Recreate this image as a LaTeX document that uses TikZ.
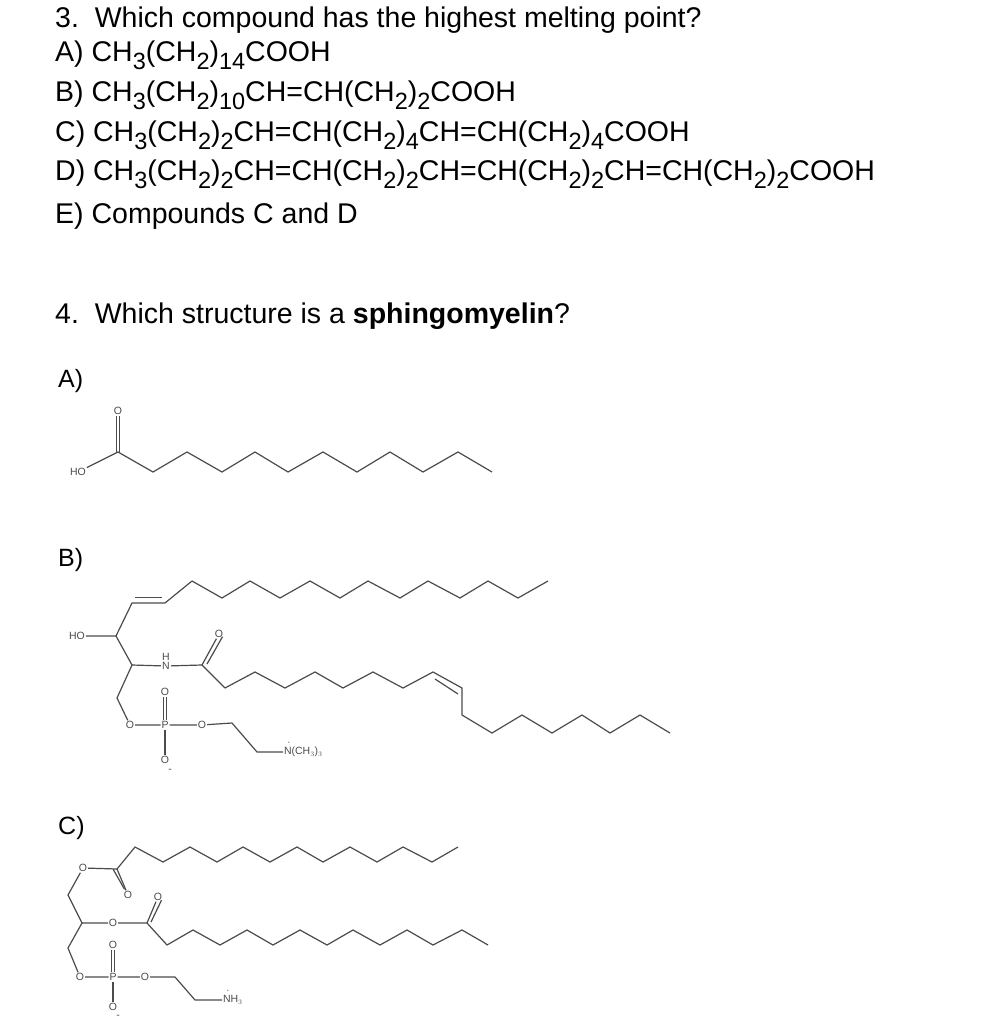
\documentclass[tikz,border=0pt]{standalone}
\usepackage{fontspec}
\setmainfont{Liberation Sans}
\newcommand\sbs[1]{\raisebox{-8pt}{\fontsize{23.5}{23.5}\selectfont #1}}
\begin{document}
\begin{tikzpicture}[x=1pt,y=-1pt,
  q/.style={anchor=base west,inner sep=0pt,font=\fontsize{28.5}{30}\selectfont},
  lbl/.style={anchor=base west,inner sep=0pt,font=\fontsize{25}{26}\selectfont},
  atm/.style={inner sep=0.8pt,text=black!70,font=\fontsize{10.5}{10.5}\selectfont},
  bd/.style={draw=black!70,line width=1.2pt,line join=round}]
\useasboundingbox[fill=white] (0,0) rectangle (987,1024);
\node[q] (t3) at (55,28) {3.\ \ Which compound has the highest melting point?};
\node[q] (ta) at (55,62) {A) CH\sbs{3}(CH\sbs{2})\sbs{14}COOH};
\node[q] (tb) at (55,102) {B) CH\sbs{3}(CH\sbs{2})\sbs{10}CH=CH(CH\sbs{2})\sbs{2}COOH};
\node[q] (tc) at (55,142) {C) CH\sbs{3}(CH\sbs{2})\sbs{2}CH=CH(CH\sbs{2})\sbs{4}CH=CH(CH\sbs{2})\sbs{4}COOH};
\node[q] (td) at (55,181) {D) CH\sbs{3}(CH\sbs{2})\sbs{2}CH=CH(CH\sbs{2})\sbs{2}CH=CH(CH\sbs{2})\sbs{2}CH=CH(CH\sbs{2})\sbs{2}COOH};
\node[q] (te) at (55,223) {E) Compounds C and D};
\node[q] (t4) at (55,323) {4.\ \ Which structure is a \textbf{sphingomyelin}?};
\node[lbl] (la) at (58,387) {A)};
\node[lbl] (lb) at (58,566) {B)};
\node[lbl] (lc) at (58,834) {C)};
% ---- A
\node[atm] (aho) at (78,472) {HO};
\node[atm] (ao) at (118,411) {O};
\coordinate (ac) at (118,452);
\draw[bd] (aho) -- (ac);
\draw[bd] ([xshift=-1.8pt]ac) -- ([xshift=-1.8pt]ao.south);
\draw[bd] ([xshift=1.8pt]ac) -- ([xshift=1.8pt]ao.south);
\draw[bd] (ac) -- (153,472) -- (187,452) -- (222,472) -- (255,452) -- (288,472) -- (323,452) -- (357,472) -- (390,452) -- (423,472) -- (458,452) -- (492,472);
% ---- B
\node[atm] (bho) at (77,636) {HO};
\coordinate (b1) at (116,636);
\coordinate (b2) at (132,603);
\coordinate (b3) at (165,603);
\draw[bd] (bho) -- (b1) -- (b2) -- (b3);
\draw[bd] (135,597.5) -- (162,597.5);
\draw[bd] (b3) -- (192,581) -- (222,598) -- (250,581) -- (280,598) -- (310,581) -- (340,598) -- (368,581) -- (400,598) -- (428,581) -- (460,598) -- (488,581) -- (518,598) -- (548,581);
\coordinate (bc2) at (132,665);
\node[atm] (bn) at (166,666) {N};
\node[atm,anchor=south] (bh) at (bn.north) {H};
\coordinate (bcc) at (202,665);
\node[atm] (bo) at (219,634) {O};
\draw[bd] (b1) -- (bc2) -- (bn) -- (bcc);
\draw[bd] (bcc) -- (bo);
\draw[bd] ([xshift=5pt,yshift=1pt]bcc) -- ([xshift=3.5pt,yshift=2pt]bo.south);
\draw[bd] (bcc) -- (225,688) -- (255,672) -- (285,688) -- (315,672) -- (343,688) -- (373,672) -- (403,688) -- (433,672) -- (462,688) -- (462,715) -- (492,733) -- (522,715) -- (552,733) -- (582,715) -- (610,733) -- (640,715) -- (670,733);
\draw[bd] (435,679) -- (458,694);
\coordinate (bc3) at (117,698);
\node[atm] (bo1) at (130,725) {O};
\node[atm] (bp) at (165,725) {P};
\node[atm] (bot) at (165,692) {O};
\node[atm] (bob) at (165,760) {O};
\node[atm] at (170,771) {-};
\node[atm] (bo2) at (202,725) {O};
\coordinate (be1) at (232,723);
\coordinate (be2) at (257,752);
\node[atm,anchor=west] (bnm) at (283,752) {N(CH$_3$)$_3$};
\node[atm] at (289,743) {$\cdot$};
\draw[bd] (bc2) -- (bc3) -- (bo1) -- (bp) -- (bo2) -- (be1) -- (be2) -- (bnm);
\draw[bd] (bp) -- (bob);
\draw[bd] ([xshift=-1.7pt]bp.north) -- ([xshift=-1.7pt]bot.south);
\draw[bd] ([xshift=1.7pt]bp.north) -- ([xshift=1.7pt]bot.south);
% ---- C
\node[atm] (co1) at (83,868) {O};
\coordinate (cc1) at (117,869);
\node[atm] (co1b) at (128,895) {O};
\draw[bd] (co1) -- (cc1) -- (co1b);
\draw[bd] ([xshift=-4pt]cc1) -- ([xshift=-3.5pt,yshift=1pt]co1b.north);
\draw[bd] (cc1) -- (135,847) -- (163,862) -- (190,847) -- (217,862) -- (243,847) -- (270,862) -- (297,847) -- (323,862) -- (350,847) -- (377,862) -- (403,847) -- (432,862) -- (458,847);
\coordinate (cg1) at (68,895);
\coordinate (cg2) at (82,923);
\coordinate (cg3) at (68,948);
\node[atm] (co2) at (113,923) {O};
\coordinate (cc2) at (147,923);
\node[atm] (co2b) at (158,897) {O};
\draw[bd] (co1) -- (cg1) -- (cg2) -- (co2) -- (cc2) -- (co2b);
\draw[bd] ([xshift=4pt,yshift=1pt]cc2) -- ([xshift=3.5pt,yshift=1.5pt]co2b.south);
\draw[bd] (cc2) -- (167,945) -- (193,930) -- (220,945) -- (247,930) -- (273,945) -- (300,930) -- (327,945) -- (353,930) -- (380,945) -- (407,930) -- (433,945) -- (462,930) -- (488,945);
\node[atm] (co3) at (80,977) {O};
\node[atm] (cp) at (113,977) {P};
\node[atm] (cot) at (113,945) {O};
\node[atm] (cob) at (113,1007) {O};
\node[atm] at (118,1017) {-};
\node[atm] (co4) at (145,977) {O};
\coordinate (ce1) at (175,977);
\coordinate (ce2) at (195,1000);
\node[atm,anchor=west] (cnh) at (222,1000) {NH$_3$};
\node[atm] at (228,991) {$\cdot$};
\draw[bd] (cg2) -- (cg3) -- (co3) -- (cp) -- (co4) -- (ce1) -- (ce2) -- (cnh);
\draw[bd] (cp) -- (cob);
\draw[bd] ([xshift=-1.7pt]cp.north) -- ([xshift=-1.7pt]cot.south);
\draw[bd] ([xshift=1.7pt]cp.north) -- ([xshift=1.7pt]cot.south);
\end{tikzpicture}
\end{document}
